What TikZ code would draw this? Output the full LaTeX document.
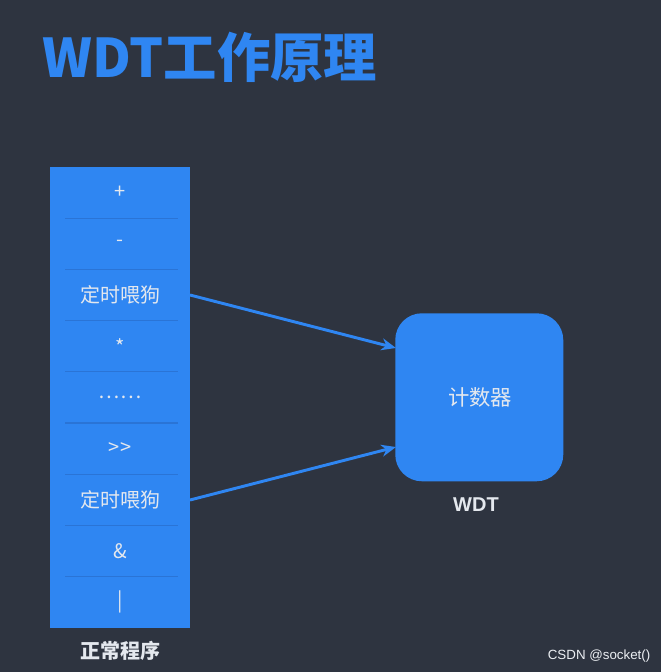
\documentclass[tikz,border=0pt]{standalone}
\usepackage{fontspec}
\setmainfont{Liberation Sans}
\newfontfamily\cjk{Noto Sans CJK SC}
\usetikzlibrary{arrows.meta}
\definecolor{bg}{HTML}{2E3440}
\definecolor{blu}{HTML}{2F86F2}
\definecolor{divc}{HTML}{2A74D6}
\definecolor{txt}{HTML}{E4E8EE}
\tikzset{
  cell/.style={font=\cjk\fontsize{15}{15}\selectfont, text=txt},
  arr/.style={draw=blu, line width=2.2pt, -{Stealth[length=11pt,width=9pt]}},
}
\begin{document}
\begin{tikzpicture}[x=0.75pt,y=-0.75pt]
\fill[bg] (0,0) rectangle (661,672);
\useasboundingbox (0,0) rectangle (661,672);
\node[anchor=west, font=\cjk\bfseries\fontsize{40}{40}\selectfont, text=blu] (title) at (38,57) {WDT工作原理};
\node[fill=blu, minimum width=105pt, minimum height=345.75pt, inner sep=0pt, anchor=north west] (col) at (50,167) {};
\foreach \i in {1,...,8} {\draw[divc, line width=1pt] (65,{167+51.2*\i}) -- (178,{167+51.2*\i});}
\foreach \t [count=\i from 0] in {+,-,定时喂狗,*,……,{>>},定时喂狗,\&,|} {
  \node[cell] (c\i) at (120,{167+25.6+51.2*\i}) {\t};
}
\node[font=\cjk\bfseries\fontsize{15}{15}\selectfont, text=txt] (lab) at (120,651) {正常程序};
\node[fill=blu, rounded corners=20pt, minimum width=126pt, minimum height=126pt, inner sep=0pt, anchor=north west] (wdt) at (395,313) {};
\node[cell, font=\cjk\fontsize{16}{16}\selectfont] (cnt) at (480,397) {计数器};
\node[font=\bfseries\fontsize{15}{15}\selectfont, text=txt] (wl) at (476,505) {WDT};
\coordinate (s1) at (190,295); \coordinate (e1) at (396,348);
\coordinate (s2) at (190,500); \coordinate (e2) at (396,447);
\draw[arr] (s1) -- (e1);
\draw[arr] (s2) -- (e2);
\node[anchor=east, font=\fontsize{10}{10}\selectfont, text=txt!70] (wm) at (655,656) {CSDN @socket()};
\end{tikzpicture}
\end{document}
